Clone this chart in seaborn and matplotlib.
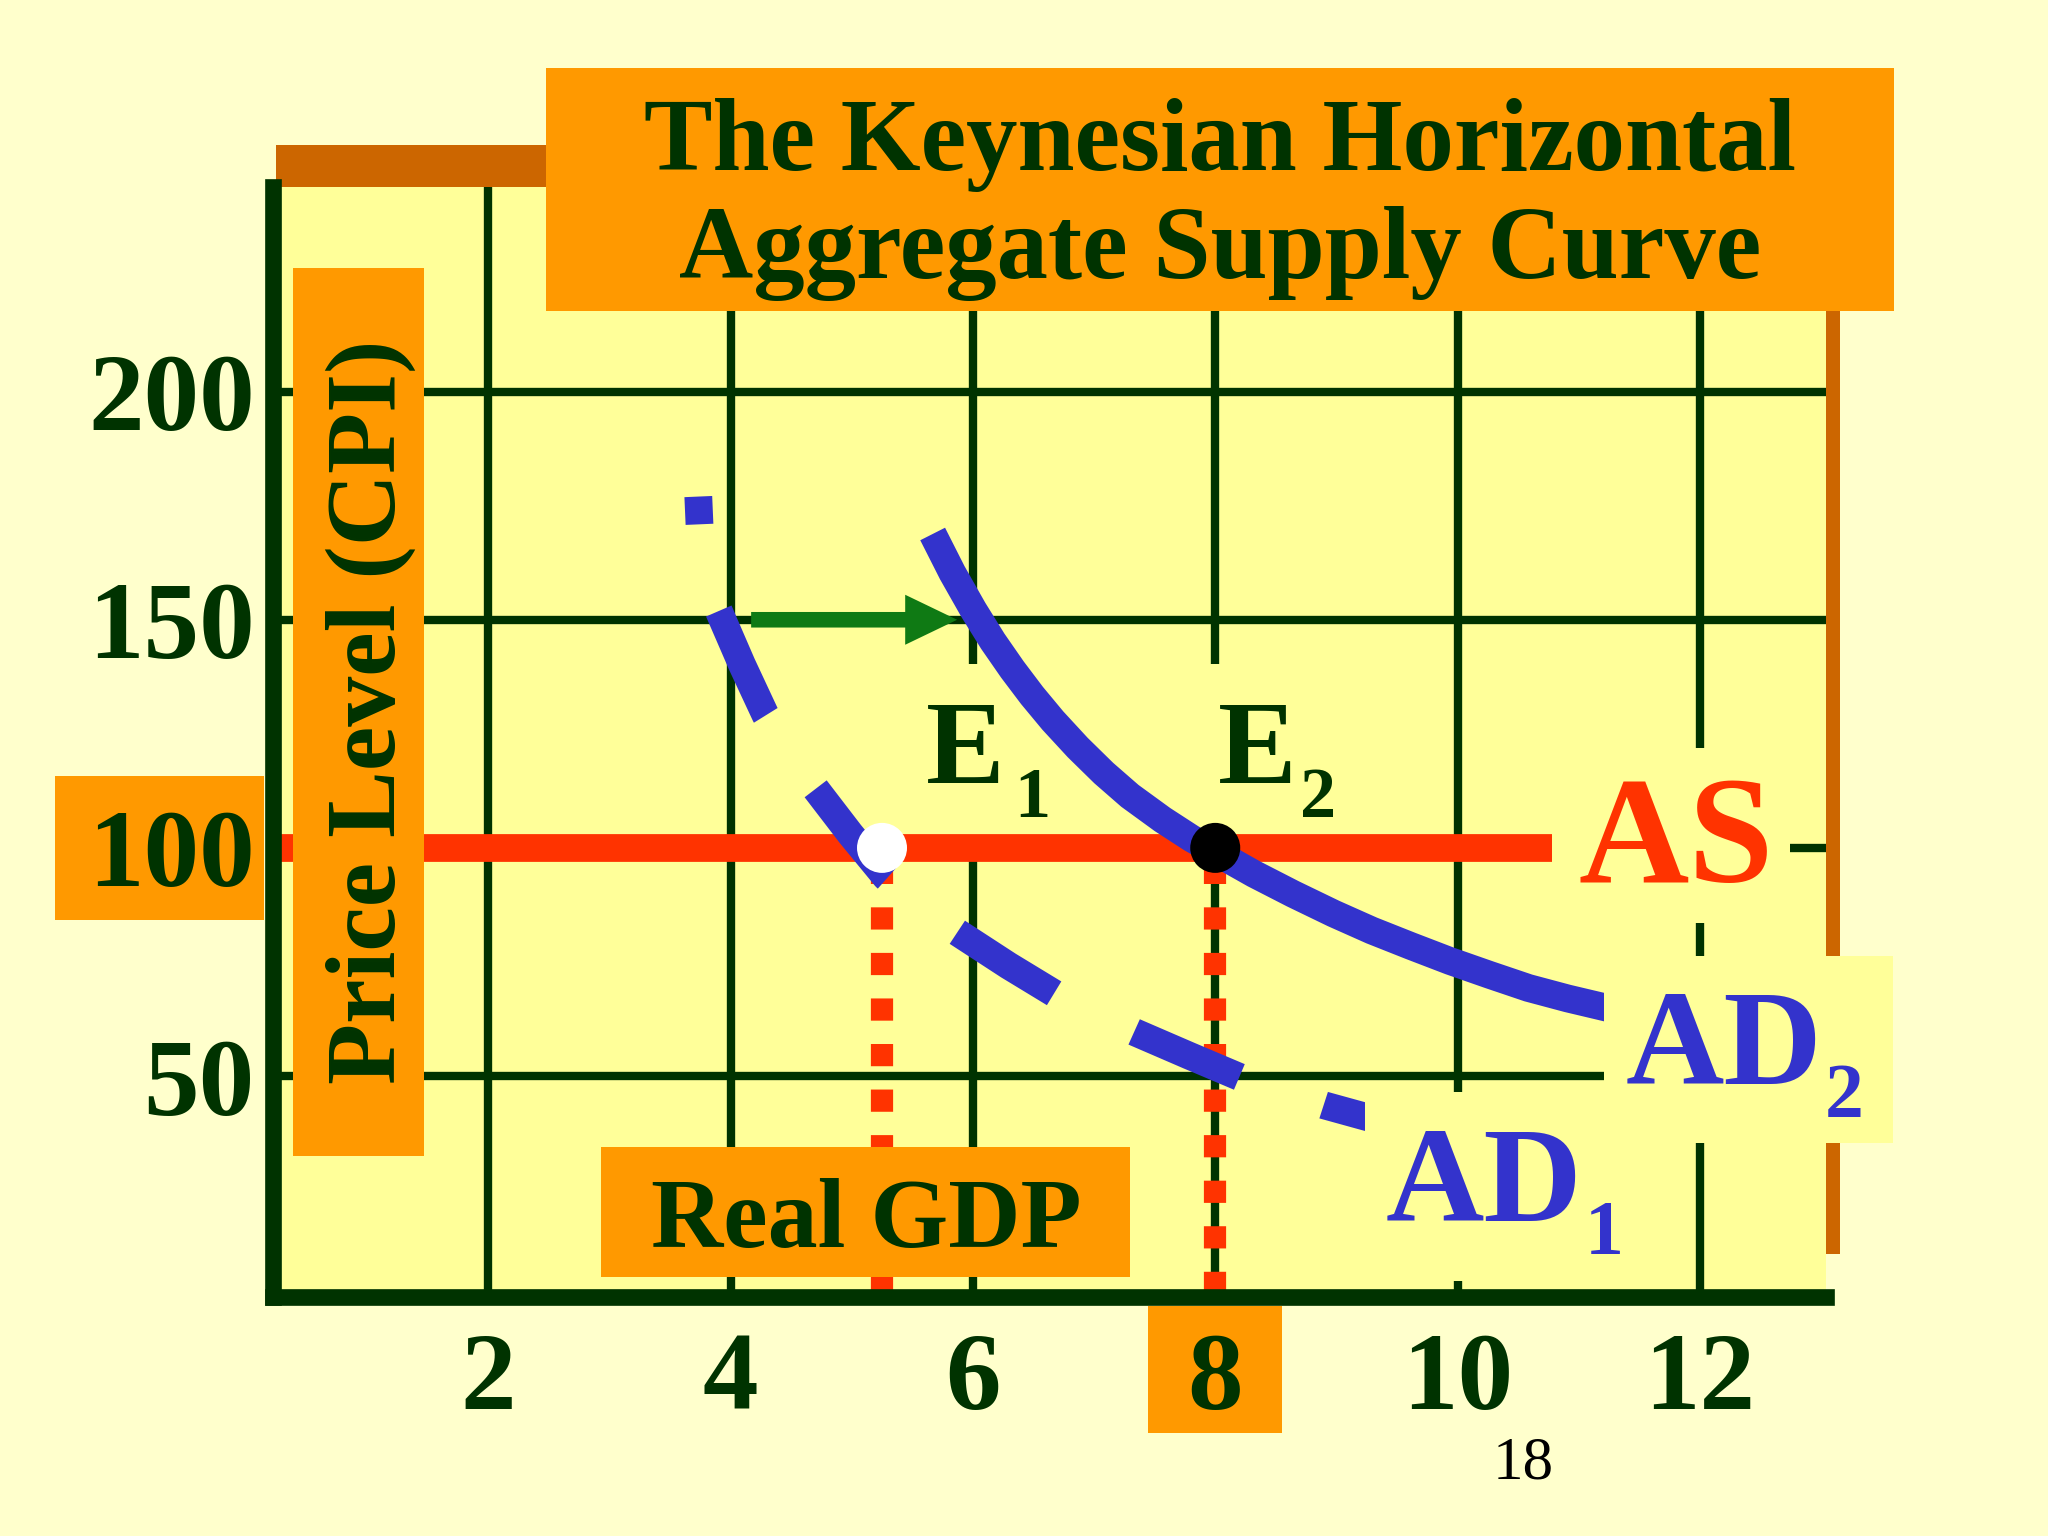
import matplotlib
matplotlib.use("Agg")
import matplotlib.pyplot as plt
import matplotlib.transforms as mtransforms
from matplotlib.patches import Rectangle, FancyArrowPatch, ArrowStyle
import seaborn as sns

# ---- data ----
gdp_ticks = [2, 4, 6, 8, 10, 12]
price_ticks = [50, 100, 150, 200]

as_gdp = [0.22, 10.78]
as_price = [100, 100]

ad1_gdp = [3.734, 3.744, 3.814, 3.900, 4.094, 4.289, 4.483, 4.698, 4.987,
           5.281, 5.570, 5.895, 6.294, 6.703, 7.027, 7.345, 7.781, 8.208,
           8.558, 8.896, 9.237, 9.561]
ad1_price = [177.0, 170.8, 160.8, 152.1, 140.2, 129.1, 120.8, 113.1, 103.1,
             93.6, 86.8, 81.1, 74.2, 67.6, 63.3, 59.5, 54.5, 49.7,
             46.5, 43.6, 41.1, 38.8]

ad2_gdp = [5.668, 5.830, 6.003, 6.164, 6.326, 6.488, 6.660, 6.865, 7.080,
           7.296, 7.565, 7.803, 8.040, 8.320, 8.643, 8.978, 9.291, 9.614,
           9.938, 10.261, 10.584, 10.908, 11.210, 11.448]
ad2_price = [168.8, 160.3, 152.2, 145.3, 139.1, 133.4, 127.9, 122.0, 116.4,
             111.4, 106.2, 102.1, 98.5, 94.3, 89.9, 85.6, 81.9, 78.5,
             75.2, 72.2, 69.3, 67.0, 65.1, 63.6]

e1_gdp, e1_price = 5.25, 100
e2_gdp, e2_price = 8.0, 100

shift_from, shift_to, shift_price = 4.17, 5.87, 150

# ---- colours ----
BG = "#FFFFCC"
PLOT = "#FFFF99"
DKGREEN = "#003300"
ORANGE = "#FF9900"
BROWN = "#CC6600"
RED = "#FF3300"
BLUE = "#3333CC"
GREEN = "#0F7A14"

sns.set_style("white")
plt.rcParams["font.family"] = ["Liberation Serif", "DejaVu Serif"]

fig = plt.figure(figsize=(20.48, 15.36), dpi=100, facecolor=BG)

# layout helpers, in a 1568 x 1176 reference grid
W0, H0 = 1568.0, 1176.0


def fx(px):
    return px / W0


def fy(py):
    return 1 - py / H0


def fig_rect(x0, y0, x1, y1, color, z, host=None):
    r = Rectangle((fx(x0), fy(y1)), fx(x1) - fx(x0), fy(y0) - fy(y1),
                  transform=fig.transFigure, fc=color, ec="none", lw=0,
                  zorder=z, clip_on=False)
    if host is None:
        fig.add_artist(r)
    else:
        host.add_patch(r)
    return r


# brown 3D shadow behind the plot area
fig_rect(211, 111, 1410, 143, BROWN, -1)
fig_rect(1397, 111, 1409, 960, BROWN, -1)

ax = fig.add_axes([fx(209), fy(993), fx(1398) - fx(209), fy(143) - fy(993)])
ax.set_facecolor(PLOT)
ax.set_xlim(0.224, 13.04)
ax.set_ylim(1.57, 244.9)

# curves
sns.lineplot(x=as_gdp, y=as_price, ax=ax, color=RED, linewidth=20,
             estimator=None, sort=False, zorder=2)
ax.lines[-1].set_solid_capstyle("butt")

for gx in [e1_gdp, e2_gdp]:
    sns.lineplot(x=[gx, gx], y=[e1_price, ax.get_ylim()[0]], ax=ax, color=RED,
                 linewidth=16, estimator=None, sort=False, zorder=2.2)
    ax.lines[-1].set_linestyle((1.43, (1.0, 1.05)))
    ax.lines[-1].set_dash_capstyle("butt")

sns.lineplot(x=ad1_gdp, y=ad1_price, ax=ax, color=BLUE, linewidth=20,
             estimator=None, sort=False, zorder=3)
ax.lines[-1].set_linestyle((3.12, (4.12, 3.2)))
ax.lines[-1].set_dash_capstyle("butt")

sns.lineplot(x=ad2_gdp, y=ad2_price, ax=ax, color=BLUE, linewidth=20,
             estimator=None, sort=False, zorder=3)
ax.lines[-1].set_solid_capstyle("butt")

arrow = FancyArrowPatch((shift_from, shift_price), (shift_to, shift_price),
                        arrowstyle=ArrowStyle.Simple(head_length=0.374,
                                                     head_width=0.36,
                                                     tail_width=0.112),
                        mutation_scale=100, color=GREEN, lw=0,
                        shrinkA=0, shrinkB=0, zorder=2.8)
ax.add_patch(arrow)

sns.scatterplot(x=[e1_gdp], y=[e1_price], ax=ax, s=36 ** 2, color="white",
                edgecolor="none", zorder=4)
sns.scatterplot(x=[e2_gdp], y=[e2_price], ax=ax, s=36 ** 2, color="black",
                edgecolor="none", zorder=4)


def data_box(x0, y0, x1, y1, z):
    ax.add_patch(Rectangle((x0, y0), x1 - x0, y1 - y0, fc=PLOT, ec="none",
                           lw=0, zorder=z, clip_on=False))


# label backgrounds that hide the grid behind them
data_box(5.41, 100, 6.60, 140.2, 1)     # E1
data_box(7.78, 100, 9.07, 140.2, 1)     # E2
data_box(10.78, 83.6, 12.74, 121.9, 1)  # AS
data_box(11.21, 35.3, 13.59, 76.2, 3.5)  # AD2
data_box(9.24, 5.0, 11.77, 46.5, 3.5)   # AD1

txt = dict(fontweight="bold", ha="left", va="baseline", zorder=6)
ax.text(5.61, 114.2, "E", fontsize=85, color=DKGREEN, **txt)
ax.text(6.34, 106.8, "1", fontsize=52, color=DKGREEN, **txt)
ax.text(8.02, 114.2, "E", fontsize=85, color=DKGREEN, **txt)
ax.text(8.70, 106.8, "2", fontsize=52, color=DKGREEN, **txt)
ax.text(11.0, 92.5, "AS", fontsize=110, color=RED, **txt)
ax.text(11.39, 48.2, "AD", fontsize=98, color=BLUE, **txt)
ax.text(13.03, 41.1, "2", fontsize=56, color=BLUE, **txt)
ax.text(9.41, 18.2, "AD", fontsize=98, color=BLUE, **txt)
ax.text(11.05, 11.0, "1", fontsize=56, color=BLUE, **txt)

# axes styling
ax.set_xticks(gdp_ticks)
ax.set_yticks(price_ticks)
ax.grid(True, color=DKGREEN, linewidth=6)
ax.set_axisbelow(True)
for side in ["top", "right"]:
    ax.spines[side].set_visible(False)
for side in ["left", "bottom"]:
    ax.spines[side].set_color(DKGREEN)
    ax.spines[side].set_linewidth(12)
ax.tick_params(length=0, labelsize=80, labelcolor=DKGREEN)
ax.tick_params(axis="x", pad=25)
ax.tick_params(axis="y", pad=13)
for lab in ax.get_xticklabels() + ax.get_yticklabels():
    lab.set_fontweight("bold")

# highlight boxes behind the 100 and 8 tick labels
bx = mtransforms.blended_transform_factory(ax.transData, fig.transFigure)
by = mtransforms.blended_transform_factory(fig.transFigure, ax.transData)
ax.add_patch(Rectangle((e2_gdp - 0.555, fy(1097)), 1.11, fy(1000) - fy(1097),
                       transform=bx, fc=ORANGE, ec="none", lw=0, zorder=0.1,
                       clip_on=False))
ax.add_patch(Rectangle((fx(42), e1_price - 15.7), fx(202) - fx(42), 31.4,
                       transform=by, fc=ORANGE, ec="none", lw=0, zorder=0.1,
                       clip_on=False))

# axis title boxes
fig_rect(224, 205, 325, 885, ORANGE, 5, host=ax)
fig.text(fx(284), fy(545), "Price Level (CPI)", rotation=90, fontsize=72,
         fontweight="bold", color=DKGREEN, ha="center", va="center")

fig_rect(460, 878, 865, 978, ORANGE, 5, host=ax)
fig.text(fx(663), fy(955), "Real GDP", fontsize=72, fontweight="bold",
         color=DKGREEN, ha="center", va="baseline")

# title
fig_rect(418, 52, 1450, 238, ORANGE, 1)
fig.text(fx(934), fy(130), "The Keynesian Horizontal", fontsize=74,
         fontweight="bold", color=DKGREEN, ha="center", va="baseline")
fig.text(fx(934), fy(213), "Aggregate Supply Curve", fontsize=74,
         fontweight="bold", color=DKGREEN, ha="center", va="baseline")

fig.text(fx(1166), fy(1132), "18", fontsize=44, color="black",
         ha="center", va="baseline")

fig.savefig("out.png", dpi=100, facecolor=BG)
